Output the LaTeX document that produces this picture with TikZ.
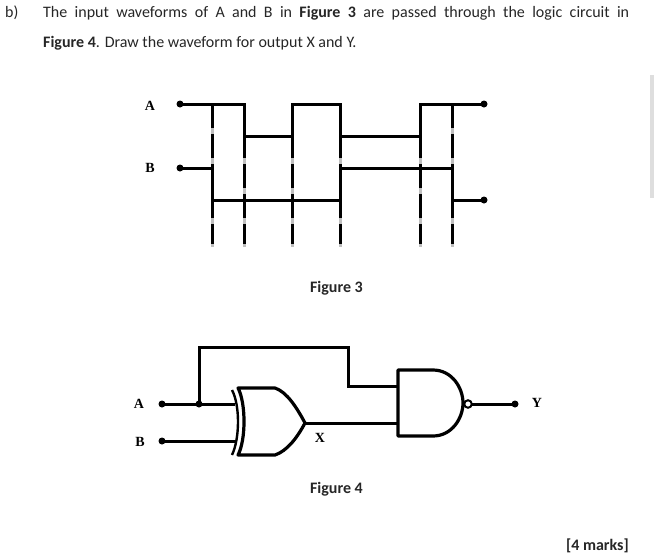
\documentclass[tikz,border=0pt]{standalone}
\usepackage{fontspec}
\setmainfont{Carlito}
\newfontfamily\serifb{Liberation Serif}[Scale=1.0]
\tikzset{
  wave/.style={line width=3pt,black,line join=miter},
  guide/.style={line width=3pt,black,dash pattern=on 23.5pt off 6.5pt},
  guideback/.style={line width=3pt,black!25},
  wire/.style={line width=3pt,black,line join=miter},
  gate/.style={line width=3.2pt,black,line join=round},
  dotn/.style={circle,fill=black,inner sep=0pt,minimum size=7pt},
  sig/.style={font=\serifb\bfseries\fontsize{14}{16}\selectfont,inner sep=0pt},
  body/.style={font=\fontsize{16}{19}\selectfont,inner sep=0pt,text=black!85},
}
\begin{document}
\begin{tikzpicture}[x=1pt,y=-1pt]
\useasboundingbox (0,0) rectangle (659,557);
% text
\node[body,anchor=base west] (qb) at (5,17) {b)};
\node[body,anchor=base west] (l1) at (43,17) {\makebox[586pt][s]{The input waveforms of A and B in \textbf{Figure 3} are passed through the logic circuit in}};
\node[body,anchor=base west] (l2) at (43,47) {\textbf{Figure 4}. Draw the waveform for output X and Y.};
\node[body,anchor=base] (f3) at (336.5,292) {\textbf{Figure 3}};
\node[body,anchor=base] (f4) at (336.5,493) {\textbf{Figure 4}};
\node[body,anchor=base east] (marks) at (629,550) {\textbf{[4 marks]}};
% scrollbar
\fill[black!13] (650,75) rectangle (654,198);
% guides
\foreach \x in {212,244,292,340,420,452}{
  \draw[guideback] (\x,104) -- (\x,247);
  \draw[guide] (\x,104) -- (\x,244);
}
% waveforms
\node[sig] (lA) at (150,106) {A};
\node[sig] (lB) at (150,168) {B};
\node[dotn] (a0) at (180,104) {};
\node[dotn] (a1) at (484,104) {};
\node[dotn] (b0) at (180,168) {};
\node[dotn] (b1) at (484,200) {};
\draw[wave] (a0.center) -- (244,104) -- (244,136) -- (292,136) -- (292,104) -- (340,104) -- (340,136) -- (420,136) -- (420,104) -- (a1.center);
\draw[wave] (b0.center) -- (212,168) -- (212,200) -- (340,200) -- (340,168) -- (452,168) -- (452,200) -- (b1.center);
% circuit
\node[sig] (cA) at (139,404) {A};
\node[sig] (cB) at (140,442) {B};
\node[sig] (cX) at (320,438) {X};
\node[sig] (cY) at (537,403) {Y};
\node[dotn] (ia) at (162,404) {};
\node[dotn] (ib) at (162,441) {};
\node[dotn] (oy) at (515,404) {};
\node[dotn] (j) at (199,404) {};
\coordinate (xa) at (235,404);
\coordinate (xb) at (235,441);
\coordinate (xo) at (305,423);
\coordinate (na) at (398,386);
\coordinate (nb) at (398,423);
\draw[wire] (ia.center) -- (xa);
\draw[wire] (ib.center) -- (xb);
\draw[wire] (j.center) -- (199,347) -- (348,347) -- (348,386) -- (na);
\draw[wire] (xo) -- (nb);
\draw[wire] (468,404) -- (oy.center);
\draw[gate,fill=white] (238,388) -- (275,388) .. controls (287,392) and (297,408) .. (305,423) .. controls (297,438) and (287,451) .. (275,455) -- (238,455) .. controls (246,440) and (246,403) .. (238,388) -- cycle;
\draw[line width=2.4pt,black] (232,390) .. controls (240,405) and (240,438) .. (232,455);
\draw[gate] (398,370) -- (433,370) .. controls (452,370) and (463,388) .. (463,403) .. controls (463,418) and (452,436) .. (433,436) -- (398,436) -- cycle;
\node[circle,draw=black,line width=2pt,fill=white,minimum size=7.5pt,inner sep=0pt] (bub) at (468,404) {};
\end{tikzpicture}
\end{document}
